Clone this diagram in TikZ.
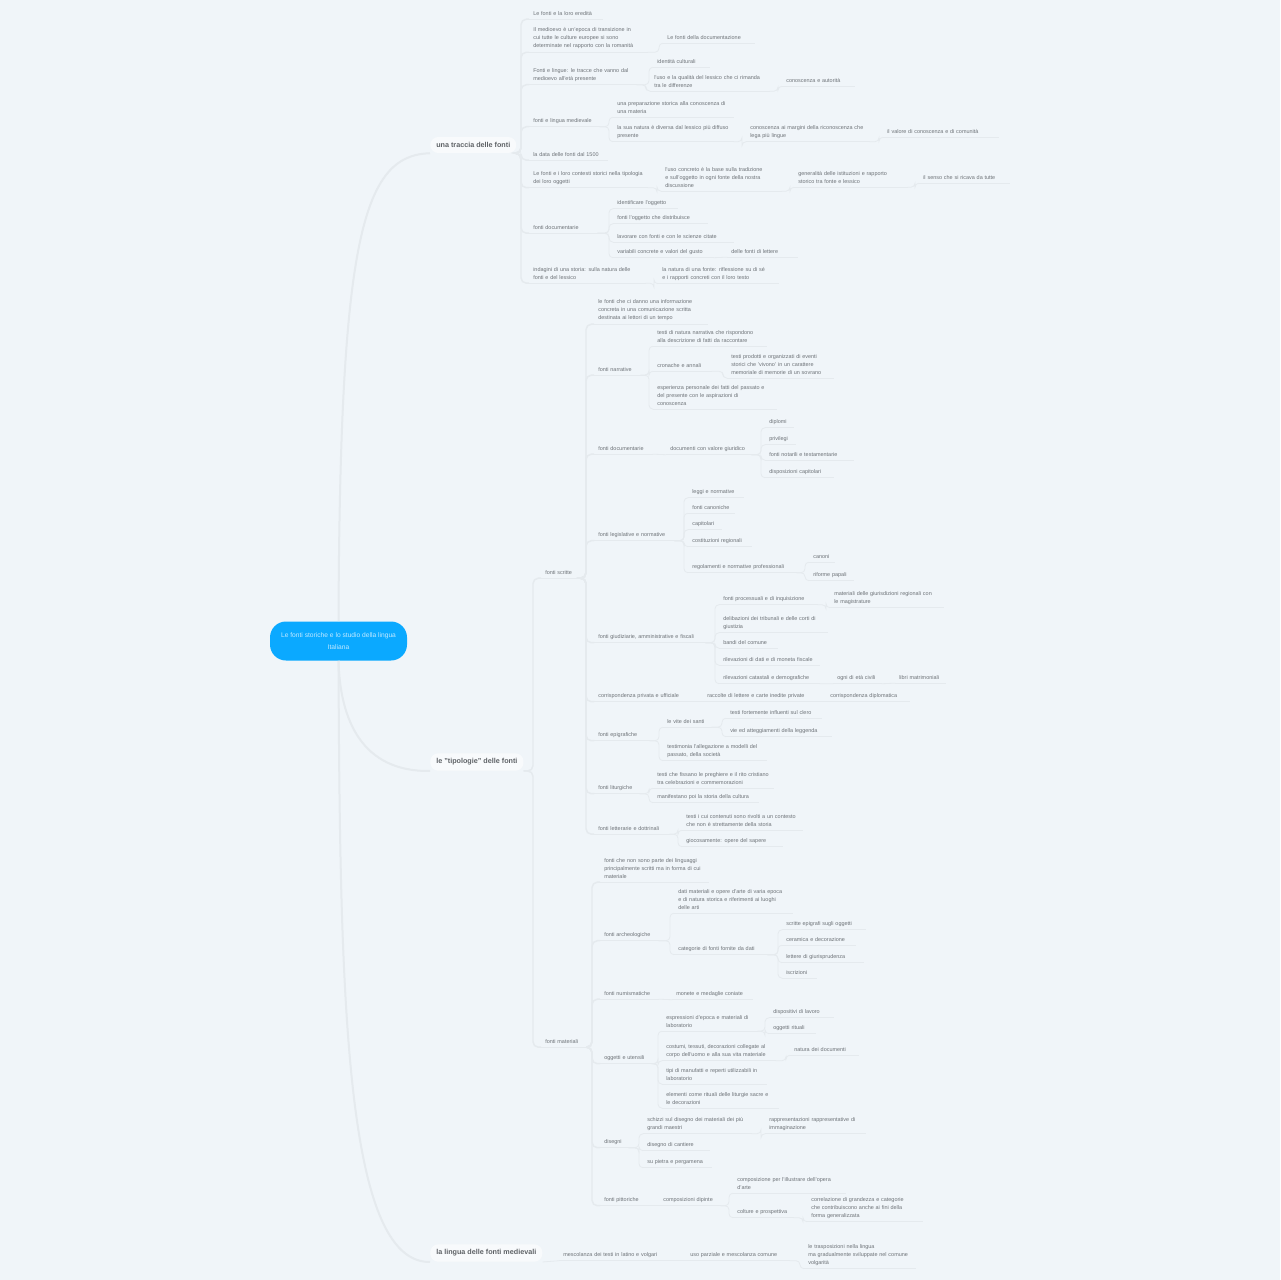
\documentclass[tikz,border=0pt]{standalone}
\usepackage{fontspec}
\setmainfont{Liberation Sans}
\usetikzlibrary{calc}
\definecolor{bgc}{HTML}{F0F5F9}
\definecolor{linec}{HTML}{E5EAEE}
\definecolor{txtc}{HTML}{6E7378}
\definecolor{rootc}{HTML}{0BA9FF}
\tikzset{
  item/.style={anchor=west,inner xsep=3pt,inner ysep=2.4pt,align=left,text=txtc,
    font={\fontsize{4.1}{6}\selectfont}},
  uline/.style={draw=linec,line width=0.6pt},
  link/.style={draw=linec,line width=0.6pt,rounded corners=3pt},
  trunk/.style={draw=linec,line width=1.1pt,rounded corners=4pt},
  main/.style={anchor=west,fill=white!55!bgc,rounded corners=6pt,inner xsep=4.5pt,inner ysep=4pt,
    text=txtc!85!black,font={\fontsize{5.4}{6}\selectfont\bfseries}},
  rootbox/.style={fill=rootc,rounded corners=12pt,minimum width=102.75pt,minimum height=29.25pt,
    align=center,text=white!75!rootc,font={\fontsize{5}{9}\selectfont}},
  rootlink/.style={draw=linec,line width=1.5pt}
}
\newcommand{\nd}[5]{%
  \pgfmathsetlengthmacro\mw{#4*0.75pt}%
  \node[item,text width=\mw] (#1) at (#2-4,#3+0.7) {#5};
  \draw[uline] (#1.south west) -- (#1.south east);
}
\newcommand{\cn}[2]{\draw[link] (#1.south east) -| ([xshift=-3pt]#2.south west) -- (#2.south west);}
\newcommand{\tr}[2]{\draw[trunk] (#1.south east) -| ([xshift=-6pt]#2.south west) -- (#2.south west);}
\newcommand{\st}[2]{\draw[link] (#1.south east) -- (#2.south west);}
\begin{document}
\begin{tikzpicture}[x=0.75pt,y=-0.75pt]
\fill[bgc] (0,0) rectangle (1280,1280);
\useasboundingbox (0,0) rectangle (1280,1280);

\node[rootbox] (root) at (338.5,641) {Le fonti storiche e lo studio della lingua\\Italiana};
\node[main] (n1) at (430,145) {una traccia delle fonti};
\node[main] (n2) at (430,762) {le "tipologie" delle fonti};
\node[main] (n3) at (430,1253) {la lingua delle fonti medievali};
\draw[rootlink] (root.north) .. controls (340,240) and (362,155) .. (n1.south west);
\draw[rootlink] (root.south) .. controls (340,720) and (362,772) .. (n2.south west);
\draw[rootlink] (root.south) .. controls (340,1000) and (345,1263) .. (n3.south west);

% Branch 1
\nd{a1}{533}{13}{65}{Le fonti e la loro eredità}
\nd{a2}{533}{37.5}{110}{Il medioevo è un'epoca di transizione in\\cui tutte le culture europee si sono\\determinate nel rapporto con la romanità}
\nd{a21}{667}{37}{83}{Le fonti della documentazione}
\nd{a3}{533}{74}{99}{Fonti e lingue: le tracce che vanno dal\\medioevo all'età presente}
\nd{a31}{657}{61}{48}{identità culturali}
\nd{a32}{654}{81}{111}{l'uso e la qualità del lessico che ci rimanda\\tra le differenze}
\nd{a321}{786}{80}{64}{conoscenza e autorità}
\nd{a4}{533}{120}{62}{fonti e lingua medievale}
\nd{a41}{617}{107}{112}{una preparazione storica alla conoscenza di\\una materia}
\nd{a42}{617}{131}{112}{la sua natura è diversa dal lessico più diffuso\\presente}
\nd{a421}{750}{131}{115}{conoscenza ai margini della riconoscenza che\\lega più lingue}
\nd{a4211}{887}{131}{107}{il valore di conoscenza e di comunità}
\nd{a5}{533}{154}{70}{la data delle fonti dal 1500}
\nd{a6}{533}{177}{110}{Le fonti e i loro contesti storici nella tipologia\\dei loro oggetti}
\nd{a61}{665}{177}{112}{l'uso concreto è la base sulla tradizione\\e sull'oggetto in ogni fonte della nostra\\discussione}
\nd{a611}{798}{177}{105}{generalità delle istituzioni e rapporto\\storico tra fonte e lessico}
\nd{a6111}{923}{177}{82}{il senso che si ricava da tutte}
\nd{a7}{533}{227}{60}{fonti documentarie}
\nd{a71}{617}{202}{56}{identificare l'oggetto}
\nd{a72}{617}{217}{86}{fonti l'oggetto che distribuisce}
\nd{a73}{617}{236}{112}{lavorare con fonti e con le scienze citate}
\nd{a74}{617}{251}{92}{variabili concrete e valori del gusto}
\nd{a741}{731}{251}{62}{delle fonti di lettere}
\nd{a8}{533}{273}{108}{indagini di una storia: sulla natura delle\\fonti e del lessico}
\nd{a81}{662}{273}{112}{la natura di una fonte: riflessione su di sé\\e i rapporti concreti con il loro testo}
\foreach \c in {a1,a2,a3,a4,a5,a6,a7,a8}{\tr{n1}{\c}}
\cn{a2}{a21}\cn{a3}{a31}\cn{a3}{a32}\cn{a32}{a321}\cn{a4}{a41}\cn{a4}{a42}\cn{a42}{a421}\cn{a421}{a4211}
\cn{a6}{a61}\cn{a61}{a611}\cn{a611}{a6111}\cn{a7}{a71}\cn{a7}{a72}\cn{a7}{a73}\cn{a7}{a74}\st{a74}{a741}\cn{a8}{a81}

% Branch 2
\nd{b1}{545}{572}{32}{fonti scritte}
\nd{b2}{545}{1041}{37}{fonti materiali}
\tr{n2}{b1}\tr{n2}{b2}
\nd{c1}{598}{309.5}{105}{le fonti che ci danno una informazione\\concreta in una comunicazione scritta\\destinata ai lettori di un tempo}
\nd{c2}{598}{369}{38}{fonti narrative}
\nd{c21}{657}{336}{105}{testi di natura narrativa che rispondono\\alla descrizione di fatti da raccontare}
\nd{c22}{657}{365}{50}{cronache e annali}
\nd{c221}{731}{364}{98}{testi prodotti e organizzati di eventi\\storici che 'vivono' in un carattere\\memoriale di memorie di un sovrano}
\nd{c23}{657}{395}{115}{esperienza personale dei fatti del passato e\\del presente con le aspirazioni di\\conoscenza}
\nd{c3}{598}{448}{50}{fonti documentarie}
\nd{c31}{670}{448}{77}{documenti con valore giuridico}
\nd{c311}{769}{421}{20}{diplomi}
\nd{c312}{769}{438}{22}{privilegi}
\nd{c313}{769}{454}{80}{fonti notarili e testamentarie}
\nd{c314}{769}{471}{60}{disposizioni capitolari}
\nd{c4}{598}{534}{72}{fonti legislative e normative}
\nd{c41}{692}{491}{47}{leggi e normative}
\nd{c42}{692}{507}{38}{fonti canoniche}
\nd{c43}{692}{523}{25}{capitolari}
\nd{c44}{692}{540}{55}{costituzioni regionali}
\nd{c45}{692}{566}{100}{regolamenti e normative professionali}
\nd{c451}{813}{556}{17}{canoni}
\nd{c452}{813}{574}{36}{riforme papali}
\nd{c5}{598}{636}{103}{fonti giudiziarie, amministrative e fiscali}
\nd{c51}{723}{598}{90}{fonti processuali e di inquisizione}
\nd{c511}{834}{597}{105}{materiali delle giurisdizioni regionali con\\le magistrature}
\nd{c52}{723}{622}{100}{delibazioni dei tribunali e delle corti di\\giustizia}
\nd{c53}{723}{642}{50}{bandi del comune}
\nd{c54}{723}{659}{92}{rilevazioni di dati e di moneta fiscale}
\nd{c55}{723}{677}{92}{rilevazioni catastali e demografiche}
\nd{c551}{837}{677}{40}{ogni di età civili}
\nd{c552}{899}{677}{42}{libri matrimoniali}
\nd{c6}{598}{695}{86}{corrispondenza privata e ufficiale}
\nd{c61}{707}{695}{100}{raccolte di lettere e carte inedite private}
\nd{c611}{830}{695}{75}{corrispondenza diplomatica}
\nd{c7}{598}{734}{47}{fonti epigrafiche}
\nd{c71}{667}{721}{40}{le vite dei santi}
\nd{c711}{730}{712}{87}{testi fortemente influenti sul clero}
\nd{c712}{730}{730}{97}{vie ed atteggiamenti della leggenda}
\nd{c72}{667}{750}{95}{testimonia l'allegazione a modelli del\\passato, della società}
\nd{c8}{598}{787}{37}{fonti liturgiche}
\nd{c81}{657}{778}{112}{testi che fissano le preghiere e il rito cristiano\\tra celebrazioni e commemorazioni}
\nd{c82}{657}{796}{97}{manifestano poi la storia della cultura}
\nd{c9}{598}{828}{67}{fonti letterarie e dottrinali}
\nd{c91}{686}{820}{112}{testi i cui contenuti sono rivolti a un contesto\\che non è strettamente della storia}
\nd{c92}{686}{840}{92}{giocosamente: opere del sapere}
\foreach \c in {c1,c2,c3,c4,c5,c6,c7,c8,c9}{\tr{b1}{\c}}
\cn{c2}{c21}\cn{c2}{c22}\cn{c2}{c23}\cn{c22}{c221}\st{c3}{c31}\cn{c31}{c311}\cn{c31}{c312}\cn{c31}{c313}\cn{c31}{c314}
\cn{c4}{c41}\cn{c4}{c42}\cn{c4}{c43}\cn{c4}{c44}\cn{c4}{c45}\cn{c45}{c451}\cn{c45}{c452}
\cn{c5}{c51}\cn{c51}{c511}\cn{c5}{c52}\cn{c5}{c53}\cn{c5}{c54}\cn{c5}{c55}\st{c55}{c551}\st{c551}{c552}
\st{c6}{c61}\st{c61}{c611}\cn{c7}{c71}\cn{c71}{c711}\cn{c71}{c712}\cn{c7}{c72}\cn{c8}{c81}\cn{c8}{c82}\cn{c9}{c91}\cn{c9}{c92}

\nd{d1}{604}{868}{100}{fonti che non sono parte dei linguaggi\\principalmente scritti ma in forma di cui\\materiale}
\nd{d2}{604}{934}{50}{fonti archeologiche}
\nd{d21}{678}{899}{110}{dati materiali e opere d'arte di varia epoca\\e di natura storica e riferimenti ai luoghi\\delle arti}
\nd{d22}{678}{948}{85}{categorie di fonti fornite da dati}
\nd{d221}{786}{923}{75}{scritte epigrafi sugli oggetti}
\nd{d222}{786}{939}{65}{ceramica e decorazione}
\nd{d223}{786}{956}{73}{lettere di giurisprudenza}
\nd{d224}{786}{972}{26}{iscrizioni}
\nd{d3}{604}{993}{50}{fonti numismatiche}
\nd{d31}{676}{993}{72}{monete e medaglie coniate}
\nd{d4}{604}{1057}{46}{oggetti e utensili}
\nd{d41}{666}{1021}{87}{espressioni d'epoca e materiali di\\laboratorio}
\nd{d411}{773}{1011}{56}{dispositivi di lavoro}
\nd{d412}{773}{1027}{38}{oggetti rituali}
\nd{d42}{666}{1050}{105}{costumi, tessuti, decorazioni collegate al\\corpo dell'uomo e alla sua vita materiale}
\nd{d421}{794}{1049}{60}{natura dei documenti}
\nd{d43}{666}{1074}{96}{tipi di manufatti e reperti utilizzabili in\\laboratorio}
\nd{d44}{666}{1098}{108}{elementi come rituali delle liturgie sacre e\\le decorazioni}
\nd{d5}{604}{1141}{20}{disegni}
\nd{d51}{647}{1123}{100}{schizzi sul disegno dei materiali dei più\\grandi maestri}
\nd{d511}{769}{1123}{92}{rappresentazioni rappresentative di\\immaginazione}
\nd{d52}{647}{1144}{58}{disegno di cantiere}
\nd{d53}{647}{1161}{60}{su pietra e pergamena}
\nd{d6}{604}{1199}{38}{fonti pittoriche}
\nd{d61}{663}{1199}{53}{composizioni dipinte}
\nd{d611}{737}{1183}{104}{composizione per l'illustrare dell'opera\\d'arte}
\nd{d612}{737}{1211}{52}{colture e prospettiva}
\nd{d6121}{811}{1207}{107}{correlazione di grandezza e categorie\\che contribuiscono anche ai fini della\\forma generalizzata}
\foreach \c in {d1,d2,d3,d4,d5,d6}{\tr{b2}{\c}}
\cn{d2}{d21}\cn{d2}{d22}\cn{d22}{d221}\cn{d22}{d222}\cn{d22}{d223}\cn{d22}{d224}\st{d3}{d31}
\cn{d4}{d41}\cn{d41}{d411}\cn{d41}{d412}\cn{d4}{d42}\cn{d42}{d421}\cn{d4}{d43}\cn{d4}{d44}
\cn{d5}{d51}\cn{d51}{d511}\cn{d5}{d52}\cn{d5}{d53}\st{d6}{d61}\cn{d61}{d611}\cn{d61}{d612}\cn{d612}{d6121}

% Branch 3
\nd{e1}{563}{1254}{105}{mescolanza dei testi in latino e volgari}
\nd{e2}{690}{1254}{95}{uso parziale e mescolanza comune}
\nd{e3}{808}{1254}{103}{le trasposizioni nella lingua\\ma gradualmente sviluppate nel comune\\volgarità}
\st{n3}{e1}\st{e1}{e2}\cn{e2}{e3}
\end{tikzpicture}
\end{document}
